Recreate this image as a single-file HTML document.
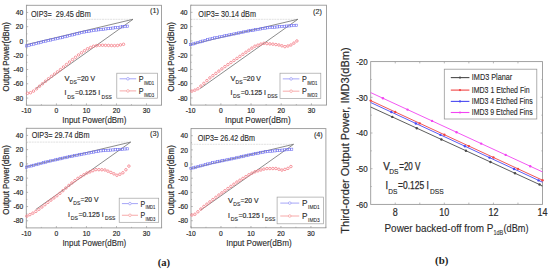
<!DOCTYPE html>
<html><head><meta charset="utf-8"><style>
html,body{margin:0;padding:0;background:#fff;width:550px;height:270px;overflow:hidden}
svg{display:block}
text{font-family:"Liberation Sans", sans-serif;stroke:#2a2a2a;stroke-width:0.2px}
</style></head><body>
<svg width="550" height="270" viewBox="0 0 550 270">
<rect width="550" height="270" fill="#fff"/>
<rect x="26.40" y="5.30" width="135.10" height="99.90" fill="none" stroke="#999999" stroke-width="0.9"/>
<line x1="26.40" y1="105.20" x2="26.40" y2="103.40" stroke="#999999" stroke-width="0.7"/>
<line x1="41.41" y1="105.20" x2="41.41" y2="104.20" stroke="#999999" stroke-width="0.7"/>
<line x1="56.42" y1="105.20" x2="56.42" y2="103.40" stroke="#999999" stroke-width="0.7"/>
<line x1="71.43" y1="105.20" x2="71.43" y2="104.20" stroke="#999999" stroke-width="0.7"/>
<line x1="86.44" y1="105.20" x2="86.44" y2="103.40" stroke="#999999" stroke-width="0.7"/>
<line x1="101.46" y1="105.20" x2="101.46" y2="104.20" stroke="#999999" stroke-width="0.7"/>
<line x1="116.47" y1="105.20" x2="116.47" y2="103.40" stroke="#999999" stroke-width="0.7"/>
<line x1="131.48" y1="105.20" x2="131.48" y2="104.20" stroke="#999999" stroke-width="0.7"/>
<line x1="146.49" y1="105.20" x2="146.49" y2="103.40" stroke="#999999" stroke-width="0.7"/>
<line x1="161.50" y1="105.20" x2="161.50" y2="104.20" stroke="#999999" stroke-width="0.7"/>
<line x1="26.40" y1="105.20" x2="27.40" y2="105.20" stroke="#999999" stroke-width="0.7"/>
<line x1="26.40" y1="98.06" x2="28.20" y2="98.06" stroke="#999999" stroke-width="0.7"/>
<line x1="26.40" y1="90.93" x2="27.40" y2="90.93" stroke="#999999" stroke-width="0.7"/>
<line x1="26.40" y1="83.79" x2="28.20" y2="83.79" stroke="#999999" stroke-width="0.7"/>
<line x1="26.40" y1="76.66" x2="27.40" y2="76.66" stroke="#999999" stroke-width="0.7"/>
<line x1="26.40" y1="69.52" x2="28.20" y2="69.52" stroke="#999999" stroke-width="0.7"/>
<line x1="26.40" y1="62.39" x2="27.40" y2="62.39" stroke="#999999" stroke-width="0.7"/>
<line x1="26.40" y1="55.25" x2="28.20" y2="55.25" stroke="#999999" stroke-width="0.7"/>
<line x1="26.40" y1="48.11" x2="27.40" y2="48.11" stroke="#999999" stroke-width="0.7"/>
<line x1="26.40" y1="40.98" x2="28.20" y2="40.98" stroke="#999999" stroke-width="0.7"/>
<line x1="26.40" y1="33.84" x2="27.40" y2="33.84" stroke="#999999" stroke-width="0.7"/>
<line x1="26.40" y1="26.71" x2="28.20" y2="26.71" stroke="#999999" stroke-width="0.7"/>
<line x1="26.40" y1="19.57" x2="27.40" y2="19.57" stroke="#999999" stroke-width="0.7"/>
<line x1="26.40" y1="12.44" x2="28.20" y2="12.44" stroke="#999999" stroke-width="0.7"/>
<line x1="26.40" y1="5.30" x2="27.40" y2="5.30" stroke="#999999" stroke-width="0.7"/>
<text x="23.30" y="100.75" font-size="7.8" text-anchor="end" textLength="9.69" lengthAdjust="spacingAndGlyphs" fill="#2a2a2a">-80</text>
<text x="23.30" y="86.48" font-size="7.8" text-anchor="end" textLength="9.69" lengthAdjust="spacingAndGlyphs" fill="#2a2a2a">-60</text>
<text x="23.30" y="72.20" font-size="7.8" text-anchor="end" textLength="9.69" lengthAdjust="spacingAndGlyphs" fill="#2a2a2a">-40</text>
<text x="23.30" y="57.93" font-size="7.8" text-anchor="end" textLength="9.69" lengthAdjust="spacingAndGlyphs" fill="#2a2a2a">-20</text>
<text x="23.30" y="43.66" font-size="7.8" text-anchor="end" textLength="3.73" lengthAdjust="spacingAndGlyphs" fill="#2a2a2a">0</text>
<text x="23.30" y="29.39" font-size="7.8" text-anchor="end" textLength="7.46" lengthAdjust="spacingAndGlyphs" fill="#2a2a2a">20</text>
<text x="23.30" y="15.12" font-size="7.8" text-anchor="end" textLength="7.46" lengthAdjust="spacingAndGlyphs" fill="#2a2a2a">40</text>
<text x="26.40" y="113.28" font-size="7.8" text-anchor="middle" textLength="9.69" lengthAdjust="spacingAndGlyphs" fill="#2a2a2a">-10</text>
<text x="56.42" y="113.28" font-size="7.8" text-anchor="middle" textLength="3.73" lengthAdjust="spacingAndGlyphs" fill="#2a2a2a">0</text>
<text x="86.44" y="113.28" font-size="7.8" text-anchor="middle" textLength="7.46" lengthAdjust="spacingAndGlyphs" fill="#2a2a2a">10</text>
<text x="116.47" y="113.28" font-size="7.8" text-anchor="middle" textLength="7.46" lengthAdjust="spacingAndGlyphs" fill="#2a2a2a">20</text>
<text x="146.49" y="113.28" font-size="7.8" text-anchor="middle" textLength="7.46" lengthAdjust="spacingAndGlyphs" fill="#2a2a2a">30</text>
<text x="62.30" y="122.86" font-size="8.60" text-anchor="start" textLength="64.10" lengthAdjust="spacingAndGlyphs" fill="#2a2a2a" style="stroke-width:0.12px">Input Power(dBm)</text>
<text transform="translate(9.46,91.50) rotate(-90)" x="0" y="0" font-size="8.6" textLength="69.50" lengthAdjust="spacingAndGlyphs" fill="#2a2a2a">Output Power(dBm)</text>
<text x="31.00" y="16.70" font-size="8.40" text-anchor="start" textLength="59.70" lengthAdjust="spacingAndGlyphs" fill="#2a2a2a" style="stroke-width:0.12px">OIP3=&#160; 29.45 dBm</text>
<text x="150.10" y="13.30" font-size="7.20" text-anchor="start" textLength="8.90" lengthAdjust="spacingAndGlyphs" fill="#2a2a2a" style="stroke-width:0.12px">(1)</text>
<line x1="26.40" y1="19.30" x2="133.00" y2="19.30" stroke="#cccccc" stroke-width="0.6" stroke-dasharray="2,0.7"/>
<line x1="26.40" y1="44.64" x2="133.00" y2="19.30" stroke="#6e6e6e" stroke-width="0.8"/>
<line x1="35.90" y1="88.54" x2="133.00" y2="19.30" stroke="#6e6e6e" stroke-width="0.8"/>
<rect x="25.50" y="44.80" width="2.2" height="2.2" fill="none" stroke="#7272f0" stroke-width="0.6"/>
<rect x="27.90" y="44.19" width="2.2" height="2.2" fill="none" stroke="#7272f0" stroke-width="0.6"/>
<rect x="30.30" y="43.58" width="2.2" height="2.2" fill="none" stroke="#7272f0" stroke-width="0.6"/>
<rect x="32.70" y="42.97" width="2.2" height="2.2" fill="none" stroke="#7272f0" stroke-width="0.6"/>
<rect x="35.10" y="42.36" width="2.2" height="2.2" fill="none" stroke="#7272f0" stroke-width="0.6"/>
<rect x="37.50" y="41.75" width="2.2" height="2.2" fill="none" stroke="#7272f0" stroke-width="0.6"/>
<rect x="39.90" y="41.14" width="2.2" height="2.2" fill="none" stroke="#7272f0" stroke-width="0.6"/>
<rect x="42.30" y="40.53" width="2.2" height="2.2" fill="none" stroke="#7272f0" stroke-width="0.6"/>
<rect x="44.70" y="39.98" width="2.2" height="2.2" fill="none" stroke="#7272f0" stroke-width="0.6"/>
<rect x="47.10" y="39.44" width="2.2" height="2.2" fill="none" stroke="#7272f0" stroke-width="0.6"/>
<rect x="49.50" y="38.90" width="2.2" height="2.2" fill="none" stroke="#7272f0" stroke-width="0.6"/>
<rect x="51.90" y="38.36" width="2.2" height="2.2" fill="none" stroke="#7272f0" stroke-width="0.6"/>
<rect x="54.30" y="37.82" width="2.2" height="2.2" fill="none" stroke="#7272f0" stroke-width="0.6"/>
<rect x="56.70" y="37.28" width="2.2" height="2.2" fill="none" stroke="#7272f0" stroke-width="0.6"/>
<rect x="59.10" y="36.73" width="2.2" height="2.2" fill="none" stroke="#7272f0" stroke-width="0.6"/>
<rect x="61.50" y="36.19" width="2.2" height="2.2" fill="none" stroke="#7272f0" stroke-width="0.6"/>
<rect x="63.90" y="35.62" width="2.2" height="2.2" fill="none" stroke="#7272f0" stroke-width="0.6"/>
<rect x="66.30" y="35.02" width="2.2" height="2.2" fill="none" stroke="#7272f0" stroke-width="0.6"/>
<rect x="68.70" y="34.42" width="2.2" height="2.2" fill="none" stroke="#7272f0" stroke-width="0.6"/>
<rect x="71.10" y="33.82" width="2.2" height="2.2" fill="none" stroke="#7272f0" stroke-width="0.6"/>
<rect x="73.50" y="33.22" width="2.2" height="2.2" fill="none" stroke="#7272f0" stroke-width="0.6"/>
<rect x="75.90" y="32.62" width="2.2" height="2.2" fill="none" stroke="#7272f0" stroke-width="0.6"/>
<rect x="78.30" y="32.02" width="2.2" height="2.2" fill="none" stroke="#7272f0" stroke-width="0.6"/>
<rect x="80.70" y="31.42" width="2.2" height="2.2" fill="none" stroke="#7272f0" stroke-width="0.6"/>
<rect x="83.10" y="30.92" width="2.2" height="2.2" fill="none" stroke="#7272f0" stroke-width="0.6"/>
<rect x="85.50" y="30.51" width="2.2" height="2.2" fill="none" stroke="#7272f0" stroke-width="0.6"/>
<rect x="87.90" y="30.11" width="2.2" height="2.2" fill="none" stroke="#7272f0" stroke-width="0.6"/>
<rect x="90.30" y="29.71" width="2.2" height="2.2" fill="none" stroke="#7272f0" stroke-width="0.6"/>
<rect x="92.70" y="29.30" width="2.2" height="2.2" fill="none" stroke="#7272f0" stroke-width="0.6"/>
<rect x="95.10" y="28.96" width="2.2" height="2.2" fill="none" stroke="#7272f0" stroke-width="0.6"/>
<rect x="97.50" y="28.67" width="2.2" height="2.2" fill="none" stroke="#7272f0" stroke-width="0.6"/>
<rect x="99.90" y="28.38" width="2.2" height="2.2" fill="none" stroke="#7272f0" stroke-width="0.6"/>
<rect x="102.30" y="28.09" width="2.2" height="2.2" fill="none" stroke="#7272f0" stroke-width="0.6"/>
<rect x="104.70" y="27.80" width="2.2" height="2.2" fill="none" stroke="#7272f0" stroke-width="0.6"/>
<rect x="107.10" y="27.52" width="2.2" height="2.2" fill="none" stroke="#7272f0" stroke-width="0.6"/>
<rect x="109.50" y="27.22" width="2.2" height="2.2" fill="none" stroke="#7272f0" stroke-width="0.6"/>
<rect x="111.90" y="26.92" width="2.2" height="2.2" fill="none" stroke="#7272f0" stroke-width="0.6"/>
<rect x="114.30" y="26.61" width="2.2" height="2.2" fill="none" stroke="#7272f0" stroke-width="0.6"/>
<rect x="116.70" y="26.30" width="2.2" height="2.2" fill="none" stroke="#7272f0" stroke-width="0.6"/>
<rect x="119.10" y="25.99" width="2.2" height="2.2" fill="none" stroke="#7272f0" stroke-width="0.6"/>
<rect x="121.50" y="25.68" width="2.2" height="2.2" fill="none" stroke="#7272f0" stroke-width="0.6"/>
<rect x="123.90" y="25.38" width="2.2" height="2.2" fill="none" stroke="#7272f0" stroke-width="0.6"/>
<rect x="126.30" y="25.07" width="2.2" height="2.2" fill="none" stroke="#7272f0" stroke-width="0.6"/>
<circle cx="27.50" cy="93.30" r="1.25" fill="none" stroke="#f47a84" stroke-width="0.8"/>
<circle cx="30.50" cy="92.72" r="1.25" fill="none" stroke="#f47a84" stroke-width="0.8"/>
<circle cx="33.50" cy="91.08" r="1.25" fill="none" stroke="#f47a84" stroke-width="0.8"/>
<circle cx="36.50" cy="88.77" r="1.25" fill="none" stroke="#f47a84" stroke-width="0.8"/>
<circle cx="39.50" cy="86.26" r="1.25" fill="none" stroke="#f47a84" stroke-width="0.8"/>
<circle cx="42.50" cy="83.76" r="1.25" fill="none" stroke="#f47a84" stroke-width="0.8"/>
<circle cx="45.50" cy="81.26" r="1.25" fill="none" stroke="#f47a84" stroke-width="0.8"/>
<circle cx="48.50" cy="78.75" r="1.25" fill="none" stroke="#f47a84" stroke-width="0.8"/>
<circle cx="51.50" cy="76.37" r="1.25" fill="none" stroke="#f47a84" stroke-width="0.8"/>
<circle cx="54.50" cy="74.10" r="1.25" fill="none" stroke="#f47a84" stroke-width="0.8"/>
<circle cx="57.50" cy="71.84" r="1.25" fill="none" stroke="#f47a84" stroke-width="0.8"/>
<circle cx="60.50" cy="69.58" r="1.25" fill="none" stroke="#f47a84" stroke-width="0.8"/>
<circle cx="63.50" cy="67.01" r="1.25" fill="none" stroke="#f47a84" stroke-width="0.8"/>
<circle cx="66.50" cy="64.51" r="1.25" fill="none" stroke="#f47a84" stroke-width="0.8"/>
<circle cx="69.50" cy="62.05" r="1.25" fill="none" stroke="#f47a84" stroke-width="0.8"/>
<circle cx="72.50" cy="59.61" r="1.25" fill="none" stroke="#f47a84" stroke-width="0.8"/>
<circle cx="75.50" cy="57.28" r="1.25" fill="none" stroke="#f47a84" stroke-width="0.8"/>
<circle cx="78.50" cy="54.95" r="1.25" fill="none" stroke="#f47a84" stroke-width="0.8"/>
<circle cx="81.50" cy="52.79" r="1.25" fill="none" stroke="#f47a84" stroke-width="0.8"/>
<circle cx="84.50" cy="50.72" r="1.25" fill="none" stroke="#f47a84" stroke-width="0.8"/>
<circle cx="87.50" cy="48.79" r="1.25" fill="none" stroke="#f47a84" stroke-width="0.8"/>
<circle cx="90.50" cy="47.53" r="1.25" fill="none" stroke="#f47a84" stroke-width="0.8"/>
<circle cx="93.50" cy="46.28" r="1.25" fill="none" stroke="#f47a84" stroke-width="0.8"/>
<circle cx="96.50" cy="45.64" r="1.25" fill="none" stroke="#f47a84" stroke-width="0.8"/>
<circle cx="99.50" cy="45.26" r="1.25" fill="none" stroke="#f47a84" stroke-width="0.8"/>
<circle cx="102.50" cy="45.26" r="1.25" fill="none" stroke="#f47a84" stroke-width="0.8"/>
<circle cx="105.50" cy="45.33" r="1.25" fill="none" stroke="#f47a84" stroke-width="0.8"/>
<circle cx="108.50" cy="45.43" r="1.25" fill="none" stroke="#f47a84" stroke-width="0.8"/>
<circle cx="111.50" cy="45.54" r="1.25" fill="none" stroke="#f47a84" stroke-width="0.8"/>
<circle cx="114.50" cy="45.64" r="1.25" fill="none" stroke="#f47a84" stroke-width="0.8"/>
<circle cx="117.50" cy="45.48" r="1.25" fill="none" stroke="#f47a84" stroke-width="0.8"/>
<circle cx="120.50" cy="44.89" r="1.25" fill="none" stroke="#f47a84" stroke-width="0.8"/>
<circle cx="123.50" cy="44.30" r="1.25" fill="none" stroke="#f47a84" stroke-width="0.8"/>
<text x="64.60" y="80.80" font-size="8.00" text-anchor="start" textLength="5.00" lengthAdjust="spacingAndGlyphs" fill="#2a2a2a" style="stroke-width:0.2px">V</text>
<text x="69.80" y="83.80" font-size="6.00" text-anchor="start" textLength="7.00" lengthAdjust="spacingAndGlyphs" fill="#2a2a2a" style="stroke-width:0.12px">DS</text>
<text x="77.10" y="80.80" font-size="8.00" text-anchor="start" textLength="18.00" lengthAdjust="spacingAndGlyphs" fill="#2a2a2a" style="stroke-width:0.2px">=20 V</text>
<text x="64.60" y="95.20" font-size="8.00" text-anchor="start" textLength="1.90" lengthAdjust="spacingAndGlyphs" fill="#2a2a2a" style="stroke-width:0.2px">I</text>
<text x="67.20" y="98.60" font-size="6.00" text-anchor="start" textLength="7.20" lengthAdjust="spacingAndGlyphs" fill="#2a2a2a" style="stroke-width:0.12px">DS</text>
<text x="74.90" y="95.20" font-size="8.00" text-anchor="start" textLength="25.30" lengthAdjust="spacingAndGlyphs" fill="#2a2a2a" style="stroke-width:0.2px">=0.125 I</text>
<text x="101.60" y="98.60" font-size="6.00" text-anchor="start" textLength="10.20" lengthAdjust="spacingAndGlyphs" fill="#2a2a2a" style="stroke-width:0.12px">DSS</text>
<rect x="116.80" y="73.20" width="40.80" height="25.00" fill="#fff" stroke="#a0a0a0" stroke-width="0.7"/>
<line x1="119.60" y1="78.80" x2="136.20" y2="78.80" stroke="#9c9cf6" stroke-width="0.9"/>
<circle cx="127.90" cy="78.80" r="1.3" fill="#fff" stroke="#9c9cf6" stroke-width="0.75"/>
<text x="138.70" y="81.90" font-size="8.80" text-anchor="start" textLength="4.80" lengthAdjust="spacingAndGlyphs" fill="#2a2a2a" style="stroke-width:0.12px">P</text>
<text x="144.00" y="84.80" font-size="4.80" text-anchor="start" textLength="10.20" lengthAdjust="spacingAndGlyphs" fill="#2a2a2a" style="stroke-width:0.08px">IMD1</text>
<line x1="119.60" y1="90.90" x2="136.20" y2="90.90" stroke="#f6a0a0" stroke-width="0.9"/>
<circle cx="127.90" cy="90.90" r="1.3" fill="#fff" stroke="#f6a0a0" stroke-width="0.75"/>
<text x="138.70" y="94.00" font-size="8.80" text-anchor="start" textLength="4.80" lengthAdjust="spacingAndGlyphs" fill="#2a2a2a" style="stroke-width:0.12px">P</text>
<text x="144.00" y="96.90" font-size="4.80" text-anchor="start" textLength="10.20" lengthAdjust="spacingAndGlyphs" fill="#2a2a2a" style="stroke-width:0.08px">IMD3</text>
<rect x="190.70" y="5.20" width="135.80" height="99.90" fill="none" stroke="#999999" stroke-width="0.9"/>
<line x1="190.70" y1="105.10" x2="190.70" y2="103.30" stroke="#999999" stroke-width="0.7"/>
<line x1="205.79" y1="105.10" x2="205.79" y2="104.10" stroke="#999999" stroke-width="0.7"/>
<line x1="220.88" y1="105.10" x2="220.88" y2="103.30" stroke="#999999" stroke-width="0.7"/>
<line x1="235.97" y1="105.10" x2="235.97" y2="104.10" stroke="#999999" stroke-width="0.7"/>
<line x1="251.06" y1="105.10" x2="251.06" y2="103.30" stroke="#999999" stroke-width="0.7"/>
<line x1="266.14" y1="105.10" x2="266.14" y2="104.10" stroke="#999999" stroke-width="0.7"/>
<line x1="281.23" y1="105.10" x2="281.23" y2="103.30" stroke="#999999" stroke-width="0.7"/>
<line x1="296.32" y1="105.10" x2="296.32" y2="104.10" stroke="#999999" stroke-width="0.7"/>
<line x1="311.41" y1="105.10" x2="311.41" y2="103.30" stroke="#999999" stroke-width="0.7"/>
<line x1="326.50" y1="105.10" x2="326.50" y2="104.10" stroke="#999999" stroke-width="0.7"/>
<line x1="190.70" y1="105.10" x2="191.70" y2="105.10" stroke="#999999" stroke-width="0.7"/>
<line x1="190.70" y1="97.96" x2="192.50" y2="97.96" stroke="#999999" stroke-width="0.7"/>
<line x1="190.70" y1="90.83" x2="191.70" y2="90.83" stroke="#999999" stroke-width="0.7"/>
<line x1="190.70" y1="83.69" x2="192.50" y2="83.69" stroke="#999999" stroke-width="0.7"/>
<line x1="190.70" y1="76.56" x2="191.70" y2="76.56" stroke="#999999" stroke-width="0.7"/>
<line x1="190.70" y1="69.42" x2="192.50" y2="69.42" stroke="#999999" stroke-width="0.7"/>
<line x1="190.70" y1="62.29" x2="191.70" y2="62.29" stroke="#999999" stroke-width="0.7"/>
<line x1="190.70" y1="55.15" x2="192.50" y2="55.15" stroke="#999999" stroke-width="0.7"/>
<line x1="190.70" y1="48.01" x2="191.70" y2="48.01" stroke="#999999" stroke-width="0.7"/>
<line x1="190.70" y1="40.88" x2="192.50" y2="40.88" stroke="#999999" stroke-width="0.7"/>
<line x1="190.70" y1="33.74" x2="191.70" y2="33.74" stroke="#999999" stroke-width="0.7"/>
<line x1="190.70" y1="26.61" x2="192.50" y2="26.61" stroke="#999999" stroke-width="0.7"/>
<line x1="190.70" y1="19.47" x2="191.70" y2="19.47" stroke="#999999" stroke-width="0.7"/>
<line x1="190.70" y1="12.34" x2="192.50" y2="12.34" stroke="#999999" stroke-width="0.7"/>
<line x1="190.70" y1="5.20" x2="191.70" y2="5.20" stroke="#999999" stroke-width="0.7"/>
<text x="187.60" y="100.65" font-size="7.8" text-anchor="end" textLength="9.69" lengthAdjust="spacingAndGlyphs" fill="#2a2a2a">-80</text>
<text x="187.60" y="86.38" font-size="7.8" text-anchor="end" textLength="9.69" lengthAdjust="spacingAndGlyphs" fill="#2a2a2a">-60</text>
<text x="187.60" y="72.10" font-size="7.8" text-anchor="end" textLength="9.69" lengthAdjust="spacingAndGlyphs" fill="#2a2a2a">-40</text>
<text x="187.60" y="57.83" font-size="7.8" text-anchor="end" textLength="9.69" lengthAdjust="spacingAndGlyphs" fill="#2a2a2a">-20</text>
<text x="187.60" y="43.56" font-size="7.8" text-anchor="end" textLength="3.73" lengthAdjust="spacingAndGlyphs" fill="#2a2a2a">0</text>
<text x="187.60" y="29.29" font-size="7.8" text-anchor="end" textLength="7.46" lengthAdjust="spacingAndGlyphs" fill="#2a2a2a">20</text>
<text x="187.60" y="15.02" font-size="7.8" text-anchor="end" textLength="7.46" lengthAdjust="spacingAndGlyphs" fill="#2a2a2a">40</text>
<text x="190.70" y="113.18" font-size="7.8" text-anchor="middle" textLength="9.69" lengthAdjust="spacingAndGlyphs" fill="#2a2a2a">-10</text>
<text x="220.88" y="113.18" font-size="7.8" text-anchor="middle" textLength="3.73" lengthAdjust="spacingAndGlyphs" fill="#2a2a2a">0</text>
<text x="251.06" y="113.18" font-size="7.8" text-anchor="middle" textLength="7.46" lengthAdjust="spacingAndGlyphs" fill="#2a2a2a">10</text>
<text x="281.23" y="113.18" font-size="7.8" text-anchor="middle" textLength="7.46" lengthAdjust="spacingAndGlyphs" fill="#2a2a2a">20</text>
<text x="311.41" y="113.18" font-size="7.8" text-anchor="middle" textLength="7.46" lengthAdjust="spacingAndGlyphs" fill="#2a2a2a">30</text>
<text x="225.00" y="122.86" font-size="8.60" text-anchor="start" textLength="65.60" lengthAdjust="spacingAndGlyphs" fill="#2a2a2a" style="stroke-width:0.12px">Input Power(dBm)</text>
<text transform="translate(173.66,91.50) rotate(-90)" x="0" y="0" font-size="8.6" textLength="69.50" lengthAdjust="spacingAndGlyphs" fill="#2a2a2a">Output Power(dBm)</text>
<text x="198.30" y="16.70" font-size="8.40" text-anchor="start" textLength="57.60" lengthAdjust="spacingAndGlyphs" fill="#2a2a2a" style="stroke-width:0.12px">OIP3= 30.14 dBm</text>
<text x="313.00" y="13.60" font-size="7.20" text-anchor="start" textLength="8.90" lengthAdjust="spacingAndGlyphs" fill="#2a2a2a" style="stroke-width:0.12px">(2)</text>
<line x1="190.70" y1="19.30" x2="297.80" y2="19.30" stroke="#cccccc" stroke-width="0.6" stroke-dasharray="2,0.7"/>
<line x1="190.70" y1="44.62" x2="297.80" y2="19.30" stroke="#6e6e6e" stroke-width="0.8"/>
<line x1="200.20" y1="88.53" x2="297.80" y2="19.30" stroke="#6e6e6e" stroke-width="0.8"/>
<rect x="189.60" y="43.50" width="2.2" height="2.2" fill="none" stroke="#7272f0" stroke-width="0.6"/>
<rect x="192.00" y="42.81" width="2.2" height="2.2" fill="none" stroke="#7272f0" stroke-width="0.6"/>
<rect x="194.40" y="42.12" width="2.2" height="2.2" fill="none" stroke="#7272f0" stroke-width="0.6"/>
<rect x="196.80" y="41.42" width="2.2" height="2.2" fill="none" stroke="#7272f0" stroke-width="0.6"/>
<rect x="199.20" y="40.73" width="2.2" height="2.2" fill="none" stroke="#7272f0" stroke-width="0.6"/>
<rect x="201.60" y="40.04" width="2.2" height="2.2" fill="none" stroke="#7272f0" stroke-width="0.6"/>
<rect x="204.00" y="39.35" width="2.2" height="2.2" fill="none" stroke="#7272f0" stroke-width="0.6"/>
<rect x="206.40" y="38.66" width="2.2" height="2.2" fill="none" stroke="#7272f0" stroke-width="0.6"/>
<rect x="208.80" y="37.96" width="2.2" height="2.2" fill="none" stroke="#7272f0" stroke-width="0.6"/>
<rect x="211.20" y="37.28" width="2.2" height="2.2" fill="none" stroke="#7272f0" stroke-width="0.6"/>
<rect x="213.60" y="36.79" width="2.2" height="2.2" fill="none" stroke="#7272f0" stroke-width="0.6"/>
<rect x="216.00" y="36.31" width="2.2" height="2.2" fill="none" stroke="#7272f0" stroke-width="0.6"/>
<rect x="218.40" y="35.82" width="2.2" height="2.2" fill="none" stroke="#7272f0" stroke-width="0.6"/>
<rect x="220.80" y="35.33" width="2.2" height="2.2" fill="none" stroke="#7272f0" stroke-width="0.6"/>
<rect x="223.20" y="34.85" width="2.2" height="2.2" fill="none" stroke="#7272f0" stroke-width="0.6"/>
<rect x="225.60" y="34.36" width="2.2" height="2.2" fill="none" stroke="#7272f0" stroke-width="0.6"/>
<rect x="228.00" y="33.87" width="2.2" height="2.2" fill="none" stroke="#7272f0" stroke-width="0.6"/>
<rect x="230.40" y="33.39" width="2.2" height="2.2" fill="none" stroke="#7272f0" stroke-width="0.6"/>
<rect x="232.80" y="32.90" width="2.2" height="2.2" fill="none" stroke="#7272f0" stroke-width="0.6"/>
<rect x="235.20" y="32.40" width="2.2" height="2.2" fill="none" stroke="#7272f0" stroke-width="0.6"/>
<rect x="237.60" y="31.90" width="2.2" height="2.2" fill="none" stroke="#7272f0" stroke-width="0.6"/>
<rect x="240.00" y="31.40" width="2.2" height="2.2" fill="none" stroke="#7272f0" stroke-width="0.6"/>
<rect x="242.40" y="30.90" width="2.2" height="2.2" fill="none" stroke="#7272f0" stroke-width="0.6"/>
<rect x="244.80" y="30.40" width="2.2" height="2.2" fill="none" stroke="#7272f0" stroke-width="0.6"/>
<rect x="247.20" y="29.91" width="2.2" height="2.2" fill="none" stroke="#7272f0" stroke-width="0.6"/>
<rect x="249.60" y="29.50" width="2.2" height="2.2" fill="none" stroke="#7272f0" stroke-width="0.6"/>
<rect x="252.00" y="29.09" width="2.2" height="2.2" fill="none" stroke="#7272f0" stroke-width="0.6"/>
<rect x="254.40" y="28.68" width="2.2" height="2.2" fill="none" stroke="#7272f0" stroke-width="0.6"/>
<rect x="256.80" y="28.26" width="2.2" height="2.2" fill="none" stroke="#7272f0" stroke-width="0.6"/>
<rect x="259.20" y="27.85" width="2.2" height="2.2" fill="none" stroke="#7272f0" stroke-width="0.6"/>
<rect x="261.60" y="27.44" width="2.2" height="2.2" fill="none" stroke="#7272f0" stroke-width="0.6"/>
<rect x="264.00" y="27.03" width="2.2" height="2.2" fill="none" stroke="#7272f0" stroke-width="0.6"/>
<rect x="266.40" y="26.66" width="2.2" height="2.2" fill="none" stroke="#7272f0" stroke-width="0.6"/>
<rect x="268.80" y="26.45" width="2.2" height="2.2" fill="none" stroke="#7272f0" stroke-width="0.6"/>
<rect x="271.20" y="26.24" width="2.2" height="2.2" fill="none" stroke="#7272f0" stroke-width="0.6"/>
<rect x="273.60" y="26.04" width="2.2" height="2.2" fill="none" stroke="#7272f0" stroke-width="0.6"/>
<rect x="276.00" y="25.83" width="2.2" height="2.2" fill="none" stroke="#7272f0" stroke-width="0.6"/>
<rect x="278.40" y="25.62" width="2.2" height="2.2" fill="none" stroke="#7272f0" stroke-width="0.6"/>
<rect x="280.80" y="25.42" width="2.2" height="2.2" fill="none" stroke="#7272f0" stroke-width="0.6"/>
<rect x="283.20" y="25.21" width="2.2" height="2.2" fill="none" stroke="#7272f0" stroke-width="0.6"/>
<rect x="285.60" y="25.00" width="2.2" height="2.2" fill="none" stroke="#7272f0" stroke-width="0.6"/>
<rect x="288.00" y="24.80" width="2.2" height="2.2" fill="none" stroke="#7272f0" stroke-width="0.6"/>
<rect x="290.40" y="24.59" width="2.2" height="2.2" fill="none" stroke="#7272f0" stroke-width="0.6"/>
<rect x="292.80" y="24.38" width="2.2" height="2.2" fill="none" stroke="#7272f0" stroke-width="0.6"/>
<rect x="295.20" y="24.18" width="2.2" height="2.2" fill="none" stroke="#7272f0" stroke-width="0.6"/>
<circle cx="191.90" cy="91.10" r="1.25" fill="none" stroke="#f47a84" stroke-width="0.8"/>
<circle cx="194.90" cy="90.14" r="1.25" fill="none" stroke="#f47a84" stroke-width="0.8"/>
<circle cx="197.90" cy="88.77" r="1.25" fill="none" stroke="#f47a84" stroke-width="0.8"/>
<circle cx="200.90" cy="86.05" r="1.25" fill="none" stroke="#f47a84" stroke-width="0.8"/>
<circle cx="203.90" cy="83.33" r="1.25" fill="none" stroke="#f47a84" stroke-width="0.8"/>
<circle cx="206.90" cy="80.61" r="1.25" fill="none" stroke="#f47a84" stroke-width="0.8"/>
<circle cx="209.90" cy="77.89" r="1.25" fill="none" stroke="#f47a84" stroke-width="0.8"/>
<circle cx="212.90" cy="75.62" r="1.25" fill="none" stroke="#f47a84" stroke-width="0.8"/>
<circle cx="215.90" cy="73.38" r="1.25" fill="none" stroke="#f47a84" stroke-width="0.8"/>
<circle cx="218.90" cy="71.12" r="1.25" fill="none" stroke="#f47a84" stroke-width="0.8"/>
<circle cx="221.90" cy="68.88" r="1.25" fill="none" stroke="#f47a84" stroke-width="0.8"/>
<circle cx="224.90" cy="66.63" r="1.25" fill="none" stroke="#f47a84" stroke-width="0.8"/>
<circle cx="227.90" cy="64.58" r="1.25" fill="none" stroke="#f47a84" stroke-width="0.8"/>
<circle cx="230.90" cy="62.54" r="1.25" fill="none" stroke="#f47a84" stroke-width="0.8"/>
<circle cx="233.90" cy="60.49" r="1.25" fill="none" stroke="#f47a84" stroke-width="0.8"/>
<circle cx="236.90" cy="58.44" r="1.25" fill="none" stroke="#f47a84" stroke-width="0.8"/>
<circle cx="239.90" cy="56.39" r="1.25" fill="none" stroke="#f47a84" stroke-width="0.8"/>
<circle cx="242.90" cy="54.33" r="1.25" fill="none" stroke="#f47a84" stroke-width="0.8"/>
<circle cx="245.90" cy="52.26" r="1.25" fill="none" stroke="#f47a84" stroke-width="0.8"/>
<circle cx="248.90" cy="50.19" r="1.25" fill="none" stroke="#f47a84" stroke-width="0.8"/>
<circle cx="251.90" cy="48.12" r="1.25" fill="none" stroke="#f47a84" stroke-width="0.8"/>
<circle cx="254.90" cy="46.23" r="1.25" fill="none" stroke="#f47a84" stroke-width="0.8"/>
<circle cx="257.90" cy="45.18" r="1.25" fill="none" stroke="#f47a84" stroke-width="0.8"/>
<circle cx="260.90" cy="44.14" r="1.25" fill="none" stroke="#f47a84" stroke-width="0.8"/>
<circle cx="263.90" cy="43.35" r="1.25" fill="none" stroke="#f47a84" stroke-width="0.8"/>
<circle cx="266.90" cy="43.62" r="1.25" fill="none" stroke="#f47a84" stroke-width="0.8"/>
<circle cx="269.90" cy="43.89" r="1.25" fill="none" stroke="#f47a84" stroke-width="0.8"/>
<circle cx="272.90" cy="44.16" r="1.25" fill="none" stroke="#f47a84" stroke-width="0.8"/>
<circle cx="275.90" cy="44.56" r="1.25" fill="none" stroke="#f47a84" stroke-width="0.8"/>
<circle cx="278.90" cy="44.99" r="1.25" fill="none" stroke="#f47a84" stroke-width="0.8"/>
<circle cx="281.90" cy="45.80" r="1.25" fill="none" stroke="#f47a84" stroke-width="0.8"/>
<circle cx="284.90" cy="46.63" r="1.25" fill="none" stroke="#f47a84" stroke-width="0.8"/>
<circle cx="287.90" cy="45.99" r="1.25" fill="none" stroke="#f47a84" stroke-width="0.8"/>
<circle cx="290.90" cy="44.97" r="1.25" fill="none" stroke="#f47a84" stroke-width="0.8"/>
<circle cx="293.90" cy="43.12" r="1.25" fill="none" stroke="#f47a84" stroke-width="0.8"/>
<circle cx="296.90" cy="40.96" r="1.25" fill="none" stroke="#f47a84" stroke-width="0.8"/>
<text x="230.40" y="80.60" font-size="8.00" text-anchor="start" textLength="5.00" lengthAdjust="spacingAndGlyphs" fill="#2a2a2a" style="stroke-width:0.2px">V</text>
<text x="235.60" y="83.60" font-size="6.00" text-anchor="start" textLength="7.00" lengthAdjust="spacingAndGlyphs" fill="#2a2a2a" style="stroke-width:0.12px">DS</text>
<text x="242.90" y="80.60" font-size="8.00" text-anchor="start" textLength="18.00" lengthAdjust="spacingAndGlyphs" fill="#2a2a2a" style="stroke-width:0.2px">=20 V</text>
<text x="230.40" y="95.00" font-size="8.00" text-anchor="start" textLength="1.90" lengthAdjust="spacingAndGlyphs" fill="#2a2a2a" style="stroke-width:0.2px">I</text>
<text x="233.00" y="98.40" font-size="6.00" text-anchor="start" textLength="7.20" lengthAdjust="spacingAndGlyphs" fill="#2a2a2a" style="stroke-width:0.12px">DS</text>
<text x="240.70" y="95.00" font-size="8.00" text-anchor="start" textLength="25.30" lengthAdjust="spacingAndGlyphs" fill="#2a2a2a" style="stroke-width:0.2px">=0.125 I</text>
<text x="267.40" y="98.40" font-size="6.00" text-anchor="start" textLength="10.20" lengthAdjust="spacingAndGlyphs" fill="#2a2a2a" style="stroke-width:0.12px">DSS</text>
<rect x="280.00" y="73.20" width="40.80" height="25.40" fill="#fff" stroke="#a0a0a0" stroke-width="0.7"/>
<line x1="282.80" y1="78.89" x2="299.40" y2="78.89" stroke="#9c9cf6" stroke-width="0.9"/>
<circle cx="291.10" cy="78.89" r="1.3" fill="#fff" stroke="#9c9cf6" stroke-width="0.75"/>
<text x="301.90" y="82.04" font-size="8.94" text-anchor="start" textLength="4.80" lengthAdjust="spacingAndGlyphs" fill="#2a2a2a" style="stroke-width:0.12px">P</text>
<text x="307.20" y="84.99" font-size="4.88" text-anchor="start" textLength="10.20" lengthAdjust="spacingAndGlyphs" fill="#2a2a2a" style="stroke-width:0.08px">IMD1</text>
<line x1="282.80" y1="91.18" x2="299.40" y2="91.18" stroke="#f6a0a0" stroke-width="0.9"/>
<circle cx="291.10" cy="91.18" r="1.3" fill="#fff" stroke="#f6a0a0" stroke-width="0.75"/>
<text x="301.90" y="94.33" font-size="8.94" text-anchor="start" textLength="4.80" lengthAdjust="spacingAndGlyphs" fill="#2a2a2a" style="stroke-width:0.12px">P</text>
<text x="307.20" y="97.28" font-size="4.88" text-anchor="start" textLength="10.20" lengthAdjust="spacingAndGlyphs" fill="#2a2a2a" style="stroke-width:0.08px">IMD3</text>
<rect x="26.30" y="128.30" width="135.30" height="99.60" fill="none" stroke="#999999" stroke-width="0.9"/>
<line x1="26.30" y1="227.90" x2="26.30" y2="226.10" stroke="#999999" stroke-width="0.7"/>
<line x1="41.33" y1="227.90" x2="41.33" y2="226.90" stroke="#999999" stroke-width="0.7"/>
<line x1="56.37" y1="227.90" x2="56.37" y2="226.10" stroke="#999999" stroke-width="0.7"/>
<line x1="71.40" y1="227.90" x2="71.40" y2="226.90" stroke="#999999" stroke-width="0.7"/>
<line x1="86.43" y1="227.90" x2="86.43" y2="226.10" stroke="#999999" stroke-width="0.7"/>
<line x1="101.47" y1="227.90" x2="101.47" y2="226.90" stroke="#999999" stroke-width="0.7"/>
<line x1="116.50" y1="227.90" x2="116.50" y2="226.10" stroke="#999999" stroke-width="0.7"/>
<line x1="131.53" y1="227.90" x2="131.53" y2="226.90" stroke="#999999" stroke-width="0.7"/>
<line x1="146.57" y1="227.90" x2="146.57" y2="226.10" stroke="#999999" stroke-width="0.7"/>
<line x1="161.60" y1="227.90" x2="161.60" y2="226.90" stroke="#999999" stroke-width="0.7"/>
<line x1="26.30" y1="227.90" x2="27.30" y2="227.90" stroke="#999999" stroke-width="0.7"/>
<line x1="26.30" y1="220.79" x2="28.10" y2="220.79" stroke="#999999" stroke-width="0.7"/>
<line x1="26.30" y1="213.67" x2="27.30" y2="213.67" stroke="#999999" stroke-width="0.7"/>
<line x1="26.30" y1="206.56" x2="28.10" y2="206.56" stroke="#999999" stroke-width="0.7"/>
<line x1="26.30" y1="199.44" x2="27.30" y2="199.44" stroke="#999999" stroke-width="0.7"/>
<line x1="26.30" y1="192.33" x2="28.10" y2="192.33" stroke="#999999" stroke-width="0.7"/>
<line x1="26.30" y1="185.21" x2="27.30" y2="185.21" stroke="#999999" stroke-width="0.7"/>
<line x1="26.30" y1="178.10" x2="28.10" y2="178.10" stroke="#999999" stroke-width="0.7"/>
<line x1="26.30" y1="170.99" x2="27.30" y2="170.99" stroke="#999999" stroke-width="0.7"/>
<line x1="26.30" y1="163.87" x2="28.10" y2="163.87" stroke="#999999" stroke-width="0.7"/>
<line x1="26.30" y1="156.76" x2="27.30" y2="156.76" stroke="#999999" stroke-width="0.7"/>
<line x1="26.30" y1="149.64" x2="28.10" y2="149.64" stroke="#999999" stroke-width="0.7"/>
<line x1="26.30" y1="142.53" x2="27.30" y2="142.53" stroke="#999999" stroke-width="0.7"/>
<line x1="26.30" y1="135.41" x2="28.10" y2="135.41" stroke="#999999" stroke-width="0.7"/>
<line x1="26.30" y1="128.30" x2="27.30" y2="128.30" stroke="#999999" stroke-width="0.7"/>
<text x="23.20" y="223.47" font-size="7.8" text-anchor="end" textLength="9.69" lengthAdjust="spacingAndGlyphs" fill="#2a2a2a">-80</text>
<text x="23.20" y="209.24" font-size="7.8" text-anchor="end" textLength="9.69" lengthAdjust="spacingAndGlyphs" fill="#2a2a2a">-60</text>
<text x="23.20" y="195.01" font-size="7.8" text-anchor="end" textLength="9.69" lengthAdjust="spacingAndGlyphs" fill="#2a2a2a">-40</text>
<text x="23.20" y="180.78" font-size="7.8" text-anchor="end" textLength="9.69" lengthAdjust="spacingAndGlyphs" fill="#2a2a2a">-20</text>
<text x="23.20" y="166.55" font-size="7.8" text-anchor="end" textLength="3.73" lengthAdjust="spacingAndGlyphs" fill="#2a2a2a">0</text>
<text x="23.20" y="152.33" font-size="7.8" text-anchor="end" textLength="7.46" lengthAdjust="spacingAndGlyphs" fill="#2a2a2a">20</text>
<text x="23.20" y="138.10" font-size="7.8" text-anchor="end" textLength="7.46" lengthAdjust="spacingAndGlyphs" fill="#2a2a2a">40</text>
<text x="26.30" y="235.98" font-size="7.8" text-anchor="middle" textLength="9.69" lengthAdjust="spacingAndGlyphs" fill="#2a2a2a">-10</text>
<text x="56.37" y="235.98" font-size="7.8" text-anchor="middle" textLength="3.73" lengthAdjust="spacingAndGlyphs" fill="#2a2a2a">0</text>
<text x="86.43" y="235.98" font-size="7.8" text-anchor="middle" textLength="7.46" lengthAdjust="spacingAndGlyphs" fill="#2a2a2a">10</text>
<text x="116.50" y="235.98" font-size="7.8" text-anchor="middle" textLength="7.46" lengthAdjust="spacingAndGlyphs" fill="#2a2a2a">20</text>
<text x="146.57" y="235.98" font-size="7.8" text-anchor="middle" textLength="7.46" lengthAdjust="spacingAndGlyphs" fill="#2a2a2a">30</text>
<text x="62.40" y="245.76" font-size="8.60" text-anchor="start" textLength="63.80" lengthAdjust="spacingAndGlyphs" fill="#2a2a2a" style="stroke-width:0.12px">Input Power(dBm)</text>
<text transform="translate(9.46,214.70) rotate(-90)" x="0" y="0" font-size="8.6" textLength="69.50" lengthAdjust="spacingAndGlyphs" fill="#2a2a2a">Output Power(dBm)</text>
<text x="31.70" y="138.10" font-size="8.40" text-anchor="start" textLength="57.80" lengthAdjust="spacingAndGlyphs" fill="#2a2a2a" style="stroke-width:0.12px">OIP3= 29.74 dBm</text>
<text x="150.10" y="136.00" font-size="7.20" text-anchor="start" textLength="8.90" lengthAdjust="spacingAndGlyphs" fill="#2a2a2a" style="stroke-width:0.12px">(3)</text>
<line x1="26.30" y1="142.10" x2="130.70" y2="142.10" stroke="#cccccc" stroke-width="0.6" stroke-dasharray="2,0.7"/>
<line x1="26.30" y1="166.80" x2="130.70" y2="142.10" stroke="#6e6e6e" stroke-width="0.8"/>
<line x1="35.80" y1="209.46" x2="130.70" y2="142.10" stroke="#6e6e6e" stroke-width="0.8"/>
<rect x="25.40" y="166.10" width="2.2" height="2.2" fill="none" stroke="#7272f0" stroke-width="0.6"/>
<rect x="27.80" y="165.46" width="2.2" height="2.2" fill="none" stroke="#7272f0" stroke-width="0.6"/>
<rect x="30.20" y="164.82" width="2.2" height="2.2" fill="none" stroke="#7272f0" stroke-width="0.6"/>
<rect x="32.60" y="164.19" width="2.2" height="2.2" fill="none" stroke="#7272f0" stroke-width="0.6"/>
<rect x="35.00" y="163.55" width="2.2" height="2.2" fill="none" stroke="#7272f0" stroke-width="0.6"/>
<rect x="37.40" y="162.91" width="2.2" height="2.2" fill="none" stroke="#7272f0" stroke-width="0.6"/>
<rect x="39.80" y="162.27" width="2.2" height="2.2" fill="none" stroke="#7272f0" stroke-width="0.6"/>
<rect x="42.20" y="161.64" width="2.2" height="2.2" fill="none" stroke="#7272f0" stroke-width="0.6"/>
<rect x="44.60" y="161.00" width="2.2" height="2.2" fill="none" stroke="#7272f0" stroke-width="0.6"/>
<rect x="47.00" y="160.40" width="2.2" height="2.2" fill="none" stroke="#7272f0" stroke-width="0.6"/>
<rect x="49.40" y="159.86" width="2.2" height="2.2" fill="none" stroke="#7272f0" stroke-width="0.6"/>
<rect x="51.80" y="159.32" width="2.2" height="2.2" fill="none" stroke="#7272f0" stroke-width="0.6"/>
<rect x="54.20" y="158.78" width="2.2" height="2.2" fill="none" stroke="#7272f0" stroke-width="0.6"/>
<rect x="56.60" y="158.24" width="2.2" height="2.2" fill="none" stroke="#7272f0" stroke-width="0.6"/>
<rect x="59.00" y="157.69" width="2.2" height="2.2" fill="none" stroke="#7272f0" stroke-width="0.6"/>
<rect x="61.40" y="157.15" width="2.2" height="2.2" fill="none" stroke="#7272f0" stroke-width="0.6"/>
<rect x="63.80" y="156.61" width="2.2" height="2.2" fill="none" stroke="#7272f0" stroke-width="0.6"/>
<rect x="66.20" y="156.07" width="2.2" height="2.2" fill="none" stroke="#7272f0" stroke-width="0.6"/>
<rect x="68.60" y="155.54" width="2.2" height="2.2" fill="none" stroke="#7272f0" stroke-width="0.6"/>
<rect x="71.00" y="155.08" width="2.2" height="2.2" fill="none" stroke="#7272f0" stroke-width="0.6"/>
<rect x="73.40" y="154.62" width="2.2" height="2.2" fill="none" stroke="#7272f0" stroke-width="0.6"/>
<rect x="75.80" y="154.15" width="2.2" height="2.2" fill="none" stroke="#7272f0" stroke-width="0.6"/>
<rect x="78.20" y="153.69" width="2.2" height="2.2" fill="none" stroke="#7272f0" stroke-width="0.6"/>
<rect x="80.60" y="153.22" width="2.2" height="2.2" fill="none" stroke="#7272f0" stroke-width="0.6"/>
<rect x="83.00" y="152.76" width="2.2" height="2.2" fill="none" stroke="#7272f0" stroke-width="0.6"/>
<rect x="85.40" y="152.32" width="2.2" height="2.2" fill="none" stroke="#7272f0" stroke-width="0.6"/>
<rect x="87.80" y="151.87" width="2.2" height="2.2" fill="none" stroke="#7272f0" stroke-width="0.6"/>
<rect x="90.20" y="151.42" width="2.2" height="2.2" fill="none" stroke="#7272f0" stroke-width="0.6"/>
<rect x="92.60" y="150.97" width="2.2" height="2.2" fill="none" stroke="#7272f0" stroke-width="0.6"/>
<rect x="95.00" y="150.53" width="2.2" height="2.2" fill="none" stroke="#7272f0" stroke-width="0.6"/>
<rect x="97.40" y="150.08" width="2.2" height="2.2" fill="none" stroke="#7272f0" stroke-width="0.6"/>
<rect x="99.80" y="149.73" width="2.2" height="2.2" fill="none" stroke="#7272f0" stroke-width="0.6"/>
<rect x="102.20" y="149.55" width="2.2" height="2.2" fill="none" stroke="#7272f0" stroke-width="0.6"/>
<rect x="104.60" y="149.37" width="2.2" height="2.2" fill="none" stroke="#7272f0" stroke-width="0.6"/>
<rect x="107.00" y="149.19" width="2.2" height="2.2" fill="none" stroke="#7272f0" stroke-width="0.6"/>
<rect x="109.40" y="149.00" width="2.2" height="2.2" fill="none" stroke="#7272f0" stroke-width="0.6"/>
<rect x="111.80" y="148.82" width="2.2" height="2.2" fill="none" stroke="#7272f0" stroke-width="0.6"/>
<rect x="114.20" y="148.64" width="2.2" height="2.2" fill="none" stroke="#7272f0" stroke-width="0.6"/>
<rect x="116.60" y="148.46" width="2.2" height="2.2" fill="none" stroke="#7272f0" stroke-width="0.6"/>
<rect x="119.00" y="148.28" width="2.2" height="2.2" fill="none" stroke="#7272f0" stroke-width="0.6"/>
<rect x="121.40" y="148.09" width="2.2" height="2.2" fill="none" stroke="#7272f0" stroke-width="0.6"/>
<rect x="123.80" y="147.91" width="2.2" height="2.2" fill="none" stroke="#7272f0" stroke-width="0.6"/>
<rect x="126.20" y="147.73" width="2.2" height="2.2" fill="none" stroke="#7272f0" stroke-width="0.6"/>
<circle cx="26.90" cy="216.10" r="1.25" fill="none" stroke="#f47a84" stroke-width="0.8"/>
<circle cx="29.90" cy="214.62" r="1.25" fill="none" stroke="#f47a84" stroke-width="0.8"/>
<circle cx="32.90" cy="213.14" r="1.25" fill="none" stroke="#f47a84" stroke-width="0.8"/>
<circle cx="35.90" cy="211.39" r="1.25" fill="none" stroke="#f47a84" stroke-width="0.8"/>
<circle cx="38.90" cy="209.27" r="1.25" fill="none" stroke="#f47a84" stroke-width="0.8"/>
<circle cx="41.90" cy="207.02" r="1.25" fill="none" stroke="#f47a84" stroke-width="0.8"/>
<circle cx="44.90" cy="204.69" r="1.25" fill="none" stroke="#f47a84" stroke-width="0.8"/>
<circle cx="47.90" cy="202.36" r="1.25" fill="none" stroke="#f47a84" stroke-width="0.8"/>
<circle cx="50.90" cy="200.12" r="1.25" fill="none" stroke="#f47a84" stroke-width="0.8"/>
<circle cx="53.90" cy="197.94" r="1.25" fill="none" stroke="#f47a84" stroke-width="0.8"/>
<circle cx="56.90" cy="195.76" r="1.25" fill="none" stroke="#f47a84" stroke-width="0.8"/>
<circle cx="59.90" cy="193.35" r="1.25" fill="none" stroke="#f47a84" stroke-width="0.8"/>
<circle cx="62.90" cy="190.67" r="1.25" fill="none" stroke="#f47a84" stroke-width="0.8"/>
<circle cx="65.90" cy="188.00" r="1.25" fill="none" stroke="#f47a84" stroke-width="0.8"/>
<circle cx="68.90" cy="185.42" r="1.25" fill="none" stroke="#f47a84" stroke-width="0.8"/>
<circle cx="71.90" cy="183.00" r="1.25" fill="none" stroke="#f47a84" stroke-width="0.8"/>
<circle cx="74.90" cy="180.59" r="1.25" fill="none" stroke="#f47a84" stroke-width="0.8"/>
<circle cx="77.90" cy="178.36" r="1.25" fill="none" stroke="#f47a84" stroke-width="0.8"/>
<circle cx="80.90" cy="176.55" r="1.25" fill="none" stroke="#f47a84" stroke-width="0.8"/>
<circle cx="83.90" cy="174.75" r="1.25" fill="none" stroke="#f47a84" stroke-width="0.8"/>
<circle cx="86.90" cy="173.06" r="1.25" fill="none" stroke="#f47a84" stroke-width="0.8"/>
<circle cx="89.90" cy="171.87" r="1.25" fill="none" stroke="#f47a84" stroke-width="0.8"/>
<circle cx="92.90" cy="170.67" r="1.25" fill="none" stroke="#f47a84" stroke-width="0.8"/>
<circle cx="95.90" cy="169.61" r="1.25" fill="none" stroke="#f47a84" stroke-width="0.8"/>
<circle cx="98.90" cy="169.67" r="1.25" fill="none" stroke="#f47a84" stroke-width="0.8"/>
<circle cx="101.90" cy="169.74" r="1.25" fill="none" stroke="#f47a84" stroke-width="0.8"/>
<circle cx="104.90" cy="169.96" r="1.25" fill="none" stroke="#f47a84" stroke-width="0.8"/>
<circle cx="107.90" cy="171.16" r="1.25" fill="none" stroke="#f47a84" stroke-width="0.8"/>
<circle cx="110.90" cy="172.43" r="1.25" fill="none" stroke="#f47a84" stroke-width="0.8"/>
<circle cx="113.90" cy="173.84" r="1.25" fill="none" stroke="#f47a84" stroke-width="0.8"/>
<circle cx="116.90" cy="175.26" r="1.25" fill="none" stroke="#f47a84" stroke-width="0.8"/>
<circle cx="119.90" cy="174.25" r="1.25" fill="none" stroke="#f47a84" stroke-width="0.8"/>
<circle cx="122.90" cy="172.75" r="1.25" fill="none" stroke="#f47a84" stroke-width="0.8"/>
<circle cx="125.90" cy="169.76" r="1.25" fill="none" stroke="#f47a84" stroke-width="0.8"/>
<circle cx="128.90" cy="166.12" r="1.25" fill="none" stroke="#f47a84" stroke-width="0.8"/>
<text x="68.10" y="202.40" font-size="8.00" text-anchor="start" textLength="5.00" lengthAdjust="spacingAndGlyphs" fill="#2a2a2a" style="stroke-width:0.2px">V</text>
<text x="73.30" y="205.40" font-size="6.00" text-anchor="start" textLength="7.00" lengthAdjust="spacingAndGlyphs" fill="#2a2a2a" style="stroke-width:0.12px">DS</text>
<text x="80.60" y="202.40" font-size="8.00" text-anchor="start" textLength="18.00" lengthAdjust="spacingAndGlyphs" fill="#2a2a2a" style="stroke-width:0.2px">=20 V</text>
<text x="68.10" y="216.80" font-size="8.00" text-anchor="start" textLength="1.90" lengthAdjust="spacingAndGlyphs" fill="#2a2a2a" style="stroke-width:0.2px">I</text>
<text x="70.70" y="220.20" font-size="6.00" text-anchor="start" textLength="7.20" lengthAdjust="spacingAndGlyphs" fill="#2a2a2a" style="stroke-width:0.12px">DS</text>
<text x="78.40" y="216.80" font-size="8.00" text-anchor="start" textLength="25.30" lengthAdjust="spacingAndGlyphs" fill="#2a2a2a" style="stroke-width:0.2px">=0.125 I</text>
<text x="105.10" y="220.20" font-size="6.00" text-anchor="start" textLength="10.20" lengthAdjust="spacingAndGlyphs" fill="#2a2a2a" style="stroke-width:0.12px">DSS</text>
<rect x="119.20" y="198.20" width="39.50" height="24.10" fill="#fff" stroke="#a0a0a0" stroke-width="0.7"/>
<line x1="121.91" y1="203.60" x2="137.98" y2="203.60" stroke="#9c9cf6" stroke-width="0.9"/>
<circle cx="129.95" cy="203.60" r="1.3" fill="#fff" stroke="#9c9cf6" stroke-width="0.75"/>
<text x="140.40" y="206.59" font-size="8.48" text-anchor="start" textLength="4.65" lengthAdjust="spacingAndGlyphs" fill="#2a2a2a" style="stroke-width:0.12px">P</text>
<text x="145.53" y="209.38" font-size="4.63" text-anchor="start" textLength="9.87" lengthAdjust="spacingAndGlyphs" fill="#2a2a2a" style="stroke-width:0.08px">IMD1</text>
<line x1="121.91" y1="215.26" x2="137.98" y2="215.26" stroke="#f6a0a0" stroke-width="0.9"/>
<circle cx="129.95" cy="215.26" r="1.3" fill="#fff" stroke="#f6a0a0" stroke-width="0.75"/>
<text x="140.40" y="218.25" font-size="8.48" text-anchor="start" textLength="4.65" lengthAdjust="spacingAndGlyphs" fill="#2a2a2a" style="stroke-width:0.12px">P</text>
<text x="145.53" y="221.05" font-size="4.63" text-anchor="start" textLength="9.87" lengthAdjust="spacingAndGlyphs" fill="#2a2a2a" style="stroke-width:0.08px">IMD3</text>
<rect x="191.00" y="128.60" width="134.90" height="99.20" fill="none" stroke="#999999" stroke-width="0.9"/>
<line x1="191.00" y1="227.80" x2="191.00" y2="226.00" stroke="#999999" stroke-width="0.7"/>
<line x1="205.99" y1="227.80" x2="205.99" y2="226.80" stroke="#999999" stroke-width="0.7"/>
<line x1="220.98" y1="227.80" x2="220.98" y2="226.00" stroke="#999999" stroke-width="0.7"/>
<line x1="235.97" y1="227.80" x2="235.97" y2="226.80" stroke="#999999" stroke-width="0.7"/>
<line x1="250.96" y1="227.80" x2="250.96" y2="226.00" stroke="#999999" stroke-width="0.7"/>
<line x1="265.94" y1="227.80" x2="265.94" y2="226.80" stroke="#999999" stroke-width="0.7"/>
<line x1="280.93" y1="227.80" x2="280.93" y2="226.00" stroke="#999999" stroke-width="0.7"/>
<line x1="295.92" y1="227.80" x2="295.92" y2="226.80" stroke="#999999" stroke-width="0.7"/>
<line x1="310.91" y1="227.80" x2="310.91" y2="226.00" stroke="#999999" stroke-width="0.7"/>
<line x1="325.90" y1="227.80" x2="325.90" y2="226.80" stroke="#999999" stroke-width="0.7"/>
<line x1="191.00" y1="227.80" x2="192.00" y2="227.80" stroke="#999999" stroke-width="0.7"/>
<line x1="191.00" y1="220.71" x2="192.80" y2="220.71" stroke="#999999" stroke-width="0.7"/>
<line x1="191.00" y1="213.63" x2="192.00" y2="213.63" stroke="#999999" stroke-width="0.7"/>
<line x1="191.00" y1="206.54" x2="192.80" y2="206.54" stroke="#999999" stroke-width="0.7"/>
<line x1="191.00" y1="199.46" x2="192.00" y2="199.46" stroke="#999999" stroke-width="0.7"/>
<line x1="191.00" y1="192.37" x2="192.80" y2="192.37" stroke="#999999" stroke-width="0.7"/>
<line x1="191.00" y1="185.29" x2="192.00" y2="185.29" stroke="#999999" stroke-width="0.7"/>
<line x1="191.00" y1="178.20" x2="192.80" y2="178.20" stroke="#999999" stroke-width="0.7"/>
<line x1="191.00" y1="171.11" x2="192.00" y2="171.11" stroke="#999999" stroke-width="0.7"/>
<line x1="191.00" y1="164.03" x2="192.80" y2="164.03" stroke="#999999" stroke-width="0.7"/>
<line x1="191.00" y1="156.94" x2="192.00" y2="156.94" stroke="#999999" stroke-width="0.7"/>
<line x1="191.00" y1="149.86" x2="192.80" y2="149.86" stroke="#999999" stroke-width="0.7"/>
<line x1="191.00" y1="142.77" x2="192.00" y2="142.77" stroke="#999999" stroke-width="0.7"/>
<line x1="191.00" y1="135.69" x2="192.80" y2="135.69" stroke="#999999" stroke-width="0.7"/>
<line x1="191.00" y1="128.60" x2="192.00" y2="128.60" stroke="#999999" stroke-width="0.7"/>
<text x="187.90" y="223.40" font-size="7.8" text-anchor="end" textLength="9.69" lengthAdjust="spacingAndGlyphs" fill="#2a2a2a">-80</text>
<text x="187.90" y="209.23" font-size="7.8" text-anchor="end" textLength="9.69" lengthAdjust="spacingAndGlyphs" fill="#2a2a2a">-60</text>
<text x="187.90" y="195.05" font-size="7.8" text-anchor="end" textLength="9.69" lengthAdjust="spacingAndGlyphs" fill="#2a2a2a">-40</text>
<text x="187.90" y="180.88" font-size="7.8" text-anchor="end" textLength="9.69" lengthAdjust="spacingAndGlyphs" fill="#2a2a2a">-20</text>
<text x="187.90" y="166.71" font-size="7.8" text-anchor="end" textLength="3.73" lengthAdjust="spacingAndGlyphs" fill="#2a2a2a">0</text>
<text x="187.90" y="152.54" font-size="7.8" text-anchor="end" textLength="7.46" lengthAdjust="spacingAndGlyphs" fill="#2a2a2a">20</text>
<text x="187.90" y="138.37" font-size="7.8" text-anchor="end" textLength="7.46" lengthAdjust="spacingAndGlyphs" fill="#2a2a2a">40</text>
<text x="191.00" y="235.88" font-size="7.8" text-anchor="middle" textLength="9.69" lengthAdjust="spacingAndGlyphs" fill="#2a2a2a">-10</text>
<text x="220.98" y="235.88" font-size="7.8" text-anchor="middle" textLength="3.73" lengthAdjust="spacingAndGlyphs" fill="#2a2a2a">0</text>
<text x="250.96" y="235.88" font-size="7.8" text-anchor="middle" textLength="7.46" lengthAdjust="spacingAndGlyphs" fill="#2a2a2a">10</text>
<text x="280.93" y="235.88" font-size="7.8" text-anchor="middle" textLength="7.46" lengthAdjust="spacingAndGlyphs" fill="#2a2a2a">20</text>
<text x="310.91" y="235.88" font-size="7.8" text-anchor="middle" textLength="7.46" lengthAdjust="spacingAndGlyphs" fill="#2a2a2a">30</text>
<text x="226.20" y="246.36" font-size="8.60" text-anchor="start" textLength="65.60" lengthAdjust="spacingAndGlyphs" fill="#2a2a2a" style="stroke-width:0.12px">Input Power(dBm)</text>
<text transform="translate(173.66,214.70) rotate(-90)" x="0" y="0" font-size="8.6" textLength="69.50" lengthAdjust="spacingAndGlyphs" fill="#2a2a2a">Output Power(dBm)</text>
<text x="197.70" y="140.60" font-size="8.40" text-anchor="start" textLength="57.20" lengthAdjust="spacingAndGlyphs" fill="#2a2a2a" style="stroke-width:0.12px">OIP3= 26.42 dBm</text>
<text x="313.90" y="136.90" font-size="7.20" text-anchor="start" textLength="8.90" lengthAdjust="spacingAndGlyphs" fill="#2a2a2a" style="stroke-width:0.12px">(4)</text>
<line x1="191.00" y1="144.30" x2="293.60" y2="144.30" stroke="#cccccc" stroke-width="0.6" stroke-dasharray="2,0.7"/>
<line x1="191.00" y1="168.55" x2="293.60" y2="144.30" stroke="#6e6e6e" stroke-width="0.8"/>
<line x1="200.50" y1="210.32" x2="293.60" y2="144.30" stroke="#6e6e6e" stroke-width="0.8"/>
<rect x="189.80" y="167.40" width="2.2" height="2.2" fill="none" stroke="#7272f0" stroke-width="0.6"/>
<rect x="192.20" y="166.76" width="2.2" height="2.2" fill="none" stroke="#7272f0" stroke-width="0.6"/>
<rect x="194.60" y="166.12" width="2.2" height="2.2" fill="none" stroke="#7272f0" stroke-width="0.6"/>
<rect x="197.00" y="165.47" width="2.2" height="2.2" fill="none" stroke="#7272f0" stroke-width="0.6"/>
<rect x="199.40" y="164.83" width="2.2" height="2.2" fill="none" stroke="#7272f0" stroke-width="0.6"/>
<rect x="201.80" y="164.19" width="2.2" height="2.2" fill="none" stroke="#7272f0" stroke-width="0.6"/>
<rect x="204.20" y="163.55" width="2.2" height="2.2" fill="none" stroke="#7272f0" stroke-width="0.6"/>
<rect x="206.60" y="162.90" width="2.2" height="2.2" fill="none" stroke="#7272f0" stroke-width="0.6"/>
<rect x="209.00" y="162.26" width="2.2" height="2.2" fill="none" stroke="#7272f0" stroke-width="0.6"/>
<rect x="211.40" y="161.64" width="2.2" height="2.2" fill="none" stroke="#7272f0" stroke-width="0.6"/>
<rect x="213.80" y="161.15" width="2.2" height="2.2" fill="none" stroke="#7272f0" stroke-width="0.6"/>
<rect x="216.20" y="160.67" width="2.2" height="2.2" fill="none" stroke="#7272f0" stroke-width="0.6"/>
<rect x="218.60" y="160.18" width="2.2" height="2.2" fill="none" stroke="#7272f0" stroke-width="0.6"/>
<rect x="221.00" y="159.69" width="2.2" height="2.2" fill="none" stroke="#7272f0" stroke-width="0.6"/>
<rect x="223.40" y="159.21" width="2.2" height="2.2" fill="none" stroke="#7272f0" stroke-width="0.6"/>
<rect x="225.80" y="158.72" width="2.2" height="2.2" fill="none" stroke="#7272f0" stroke-width="0.6"/>
<rect x="228.20" y="158.23" width="2.2" height="2.2" fill="none" stroke="#7272f0" stroke-width="0.6"/>
<rect x="230.60" y="157.75" width="2.2" height="2.2" fill="none" stroke="#7272f0" stroke-width="0.6"/>
<rect x="233.00" y="157.26" width="2.2" height="2.2" fill="none" stroke="#7272f0" stroke-width="0.6"/>
<rect x="235.40" y="156.72" width="2.2" height="2.2" fill="none" stroke="#7272f0" stroke-width="0.6"/>
<rect x="237.80" y="156.18" width="2.2" height="2.2" fill="none" stroke="#7272f0" stroke-width="0.6"/>
<rect x="240.20" y="155.63" width="2.2" height="2.2" fill="none" stroke="#7272f0" stroke-width="0.6"/>
<rect x="242.60" y="155.08" width="2.2" height="2.2" fill="none" stroke="#7272f0" stroke-width="0.6"/>
<rect x="245.00" y="154.54" width="2.2" height="2.2" fill="none" stroke="#7272f0" stroke-width="0.6"/>
<rect x="247.40" y="153.99" width="2.2" height="2.2" fill="none" stroke="#7272f0" stroke-width="0.6"/>
<rect x="249.80" y="153.50" width="2.2" height="2.2" fill="none" stroke="#7272f0" stroke-width="0.6"/>
<rect x="252.20" y="153.03" width="2.2" height="2.2" fill="none" stroke="#7272f0" stroke-width="0.6"/>
<rect x="254.60" y="152.55" width="2.2" height="2.2" fill="none" stroke="#7272f0" stroke-width="0.6"/>
<rect x="257.00" y="152.07" width="2.2" height="2.2" fill="none" stroke="#7272f0" stroke-width="0.6"/>
<rect x="259.40" y="151.59" width="2.2" height="2.2" fill="none" stroke="#7272f0" stroke-width="0.6"/>
<rect x="261.80" y="151.12" width="2.2" height="2.2" fill="none" stroke="#7272f0" stroke-width="0.6"/>
<rect x="264.20" y="150.67" width="2.2" height="2.2" fill="none" stroke="#7272f0" stroke-width="0.6"/>
<rect x="266.60" y="150.44" width="2.2" height="2.2" fill="none" stroke="#7272f0" stroke-width="0.6"/>
<rect x="269.00" y="150.21" width="2.2" height="2.2" fill="none" stroke="#7272f0" stroke-width="0.6"/>
<rect x="271.40" y="149.98" width="2.2" height="2.2" fill="none" stroke="#7272f0" stroke-width="0.6"/>
<rect x="273.80" y="149.75" width="2.2" height="2.2" fill="none" stroke="#7272f0" stroke-width="0.6"/>
<rect x="276.20" y="149.51" width="2.2" height="2.2" fill="none" stroke="#7272f0" stroke-width="0.6"/>
<rect x="278.60" y="149.28" width="2.2" height="2.2" fill="none" stroke="#7272f0" stroke-width="0.6"/>
<rect x="281.00" y="149.05" width="2.2" height="2.2" fill="none" stroke="#7272f0" stroke-width="0.6"/>
<rect x="283.40" y="148.82" width="2.2" height="2.2" fill="none" stroke="#7272f0" stroke-width="0.6"/>
<rect x="285.80" y="148.59" width="2.2" height="2.2" fill="none" stroke="#7272f0" stroke-width="0.6"/>
<rect x="288.20" y="148.36" width="2.2" height="2.2" fill="none" stroke="#7272f0" stroke-width="0.6"/>
<rect x="290.60" y="148.13" width="2.2" height="2.2" fill="none" stroke="#7272f0" stroke-width="0.6"/>
<circle cx="191.90" cy="215.00" r="1.25" fill="none" stroke="#f47a84" stroke-width="0.8"/>
<circle cx="194.90" cy="214.24" r="1.25" fill="none" stroke="#f47a84" stroke-width="0.8"/>
<circle cx="197.90" cy="211.78" r="1.25" fill="none" stroke="#f47a84" stroke-width="0.8"/>
<circle cx="200.90" cy="209.00" r="1.25" fill="none" stroke="#f47a84" stroke-width="0.8"/>
<circle cx="203.90" cy="206.45" r="1.25" fill="none" stroke="#f47a84" stroke-width="0.8"/>
<circle cx="206.90" cy="204.16" r="1.25" fill="none" stroke="#f47a84" stroke-width="0.8"/>
<circle cx="209.90" cy="201.87" r="1.25" fill="none" stroke="#f47a84" stroke-width="0.8"/>
<circle cx="212.90" cy="199.58" r="1.25" fill="none" stroke="#f47a84" stroke-width="0.8"/>
<circle cx="215.90" cy="197.29" r="1.25" fill="none" stroke="#f47a84" stroke-width="0.8"/>
<circle cx="218.90" cy="195.01" r="1.25" fill="none" stroke="#f47a84" stroke-width="0.8"/>
<circle cx="221.90" cy="192.86" r="1.25" fill="none" stroke="#f47a84" stroke-width="0.8"/>
<circle cx="224.90" cy="190.70" r="1.25" fill="none" stroke="#f47a84" stroke-width="0.8"/>
<circle cx="227.90" cy="188.54" r="1.25" fill="none" stroke="#f47a84" stroke-width="0.8"/>
<circle cx="230.90" cy="186.39" r="1.25" fill="none" stroke="#f47a84" stroke-width="0.8"/>
<circle cx="233.90" cy="184.23" r="1.25" fill="none" stroke="#f47a84" stroke-width="0.8"/>
<circle cx="236.90" cy="182.07" r="1.25" fill="none" stroke="#f47a84" stroke-width="0.8"/>
<circle cx="239.90" cy="180.24" r="1.25" fill="none" stroke="#f47a84" stroke-width="0.8"/>
<circle cx="242.90" cy="178.42" r="1.25" fill="none" stroke="#f47a84" stroke-width="0.8"/>
<circle cx="245.90" cy="176.61" r="1.25" fill="none" stroke="#f47a84" stroke-width="0.8"/>
<circle cx="248.90" cy="174.79" r="1.25" fill="none" stroke="#f47a84" stroke-width="0.8"/>
<circle cx="251.90" cy="173.21" r="1.25" fill="none" stroke="#f47a84" stroke-width="0.8"/>
<circle cx="254.90" cy="171.82" r="1.25" fill="none" stroke="#f47a84" stroke-width="0.8"/>
<circle cx="257.90" cy="170.83" r="1.25" fill="none" stroke="#f47a84" stroke-width="0.8"/>
<circle cx="260.90" cy="169.96" r="1.25" fill="none" stroke="#f47a84" stroke-width="0.8"/>
<circle cx="263.90" cy="169.09" r="1.25" fill="none" stroke="#f47a84" stroke-width="0.8"/>
<circle cx="266.90" cy="168.59" r="1.25" fill="none" stroke="#f47a84" stroke-width="0.8"/>
<circle cx="269.90" cy="168.56" r="1.25" fill="none" stroke="#f47a84" stroke-width="0.8"/>
<circle cx="272.90" cy="168.53" r="1.25" fill="none" stroke="#f47a84" stroke-width="0.8"/>
<circle cx="275.90" cy="168.50" r="1.25" fill="none" stroke="#f47a84" stroke-width="0.8"/>
<circle cx="278.90" cy="169.26" r="1.25" fill="none" stroke="#f47a84" stroke-width="0.8"/>
<circle cx="281.90" cy="170.07" r="1.25" fill="none" stroke="#f47a84" stroke-width="0.8"/>
<circle cx="284.90" cy="169.38" r="1.25" fill="none" stroke="#f47a84" stroke-width="0.8"/>
<circle cx="287.90" cy="168.40" r="1.25" fill="none" stroke="#f47a84" stroke-width="0.8"/>
<circle cx="290.90" cy="166.55" r="1.25" fill="none" stroke="#f47a84" stroke-width="0.8"/>
<text x="228.10" y="203.20" font-size="8.00" text-anchor="start" textLength="5.00" lengthAdjust="spacingAndGlyphs" fill="#2a2a2a" style="stroke-width:0.2px">V</text>
<text x="233.30" y="206.20" font-size="6.00" text-anchor="start" textLength="7.00" lengthAdjust="spacingAndGlyphs" fill="#2a2a2a" style="stroke-width:0.12px">DS</text>
<text x="240.60" y="203.20" font-size="8.00" text-anchor="start" textLength="18.00" lengthAdjust="spacingAndGlyphs" fill="#2a2a2a" style="stroke-width:0.2px">=20 V</text>
<text x="228.10" y="217.60" font-size="8.00" text-anchor="start" textLength="1.90" lengthAdjust="spacingAndGlyphs" fill="#2a2a2a" style="stroke-width:0.2px">I</text>
<text x="230.70" y="221.00" font-size="6.00" text-anchor="start" textLength="7.20" lengthAdjust="spacingAndGlyphs" fill="#2a2a2a" style="stroke-width:0.12px">DS</text>
<text x="238.40" y="217.60" font-size="8.00" text-anchor="start" textLength="25.30" lengthAdjust="spacingAndGlyphs" fill="#2a2a2a" style="stroke-width:0.2px">=0.125 I</text>
<text x="265.10" y="221.00" font-size="6.00" text-anchor="start" textLength="10.20" lengthAdjust="spacingAndGlyphs" fill="#2a2a2a" style="stroke-width:0.12px">DSS</text>
<rect x="277.10" y="197.10" width="46.50" height="26.70" fill="#fff" stroke="#a0a0a0" stroke-width="0.7"/>
<line x1="280.29" y1="203.08" x2="299.21" y2="203.08" stroke="#9c9cf6" stroke-width="0.9"/>
<circle cx="289.75" cy="203.08" r="1.3" fill="#fff" stroke="#9c9cf6" stroke-width="0.75"/>
<text x="302.06" y="206.39" font-size="9.40" text-anchor="start" textLength="5.47" lengthAdjust="spacingAndGlyphs" fill="#2a2a2a" style="stroke-width:0.12px">P</text>
<text x="308.10" y="209.49" font-size="5.13" text-anchor="start" textLength="11.63" lengthAdjust="spacingAndGlyphs" fill="#2a2a2a" style="stroke-width:0.08px">IMD1</text>
<line x1="280.29" y1="216.00" x2="299.21" y2="216.00" stroke="#f6a0a0" stroke-width="0.9"/>
<circle cx="289.75" cy="216.00" r="1.3" fill="#fff" stroke="#f6a0a0" stroke-width="0.75"/>
<text x="302.06" y="219.31" font-size="9.40" text-anchor="start" textLength="5.47" lengthAdjust="spacingAndGlyphs" fill="#2a2a2a" style="stroke-width:0.12px">P</text>
<text x="308.10" y="222.41" font-size="5.13" text-anchor="start" textLength="11.63" lengthAdjust="spacingAndGlyphs" fill="#2a2a2a" style="stroke-width:0.08px">IMD3</text>
<rect x="370.7" y="61.6" width="171.80" height="142.80" fill="none" stroke="#999999" stroke-width="0.9"/>
<line x1="395.24" y1="204.4" x2="395.24" y2="202.6" stroke="#999999" stroke-width="0.7"/>
<line x1="395.24" y1="61.6" x2="395.24" y2="63.4" stroke="#999999" stroke-width="0.7"/>
<line x1="419.79" y1="204.4" x2="419.79" y2="202.6" stroke="#999999" stroke-width="0.7"/>
<line x1="419.79" y1="61.6" x2="419.79" y2="63.4" stroke="#999999" stroke-width="0.7"/>
<line x1="444.33" y1="204.4" x2="444.33" y2="202.6" stroke="#999999" stroke-width="0.7"/>
<line x1="444.33" y1="61.6" x2="444.33" y2="63.4" stroke="#999999" stroke-width="0.7"/>
<line x1="468.87" y1="204.4" x2="468.87" y2="202.6" stroke="#999999" stroke-width="0.7"/>
<line x1="468.87" y1="61.6" x2="468.87" y2="63.4" stroke="#999999" stroke-width="0.7"/>
<line x1="493.41" y1="204.4" x2="493.41" y2="202.6" stroke="#999999" stroke-width="0.7"/>
<line x1="493.41" y1="61.6" x2="493.41" y2="63.4" stroke="#999999" stroke-width="0.7"/>
<line x1="517.96" y1="204.4" x2="517.96" y2="202.6" stroke="#999999" stroke-width="0.7"/>
<line x1="517.96" y1="61.6" x2="517.96" y2="63.4" stroke="#999999" stroke-width="0.7"/>
<line x1="370.7" y1="186.55" x2="371.8" y2="186.55" stroke="#999999" stroke-width="0.7"/>
<line x1="542.5" y1="186.55" x2="541.4" y2="186.55" stroke="#999999" stroke-width="0.7"/>
<line x1="370.7" y1="168.70" x2="372.5" y2="168.70" stroke="#999999" stroke-width="0.7"/>
<line x1="542.5" y1="168.70" x2="540.7" y2="168.70" stroke="#999999" stroke-width="0.7"/>
<line x1="370.7" y1="150.85" x2="371.8" y2="150.85" stroke="#999999" stroke-width="0.7"/>
<line x1="542.5" y1="150.85" x2="541.4" y2="150.85" stroke="#999999" stroke-width="0.7"/>
<line x1="370.7" y1="133.00" x2="372.5" y2="133.00" stroke="#999999" stroke-width="0.7"/>
<line x1="542.5" y1="133.00" x2="540.7" y2="133.00" stroke="#999999" stroke-width="0.7"/>
<line x1="370.7" y1="115.15" x2="371.8" y2="115.15" stroke="#999999" stroke-width="0.7"/>
<line x1="542.5" y1="115.15" x2="541.4" y2="115.15" stroke="#999999" stroke-width="0.7"/>
<line x1="370.7" y1="97.30" x2="372.5" y2="97.30" stroke="#999999" stroke-width="0.7"/>
<line x1="542.5" y1="97.30" x2="540.7" y2="97.30" stroke="#999999" stroke-width="0.7"/>
<line x1="370.7" y1="79.45" x2="371.8" y2="79.45" stroke="#999999" stroke-width="0.7"/>
<line x1="542.5" y1="79.45" x2="541.4" y2="79.45" stroke="#999999" stroke-width="0.7"/>
<text x="367.8" y="64.97" font-size="9.8" text-anchor="end" textLength="11.6" lengthAdjust="spacingAndGlyphs" fill="#2a2a2a">-20</text>
<text x="367.8" y="100.67" font-size="9.8" text-anchor="end" textLength="11.6" lengthAdjust="spacingAndGlyphs" fill="#2a2a2a">-30</text>
<text x="367.8" y="136.37" font-size="9.8" text-anchor="end" textLength="11.6" lengthAdjust="spacingAndGlyphs" fill="#2a2a2a">-40</text>
<text x="367.8" y="172.07" font-size="9.8" text-anchor="end" textLength="11.6" lengthAdjust="spacingAndGlyphs" fill="#2a2a2a">-50</text>
<text x="367.8" y="207.77" font-size="9.8" text-anchor="end" textLength="11.6" lengthAdjust="spacingAndGlyphs" fill="#2a2a2a">-60</text>
<text x="395.24" y="215.61" font-size="10.2" text-anchor="middle" textLength="4.99" lengthAdjust="spacingAndGlyphs" fill="#2a2a2a">8</text>
<text x="444.33" y="215.61" font-size="10.2" text-anchor="middle" textLength="9.98" lengthAdjust="spacingAndGlyphs" fill="#2a2a2a">10</text>
<text x="493.41" y="215.61" font-size="10.2" text-anchor="middle" textLength="9.98" lengthAdjust="spacingAndGlyphs" fill="#2a2a2a">12</text>
<text x="542.50" y="215.61" font-size="10.2" text-anchor="middle" textLength="9.98" lengthAdjust="spacingAndGlyphs" fill="#2a2a2a">14</text>
<line x1="370.7" y1="107.0" x2="542.5" y2="185.9" stroke="#4a4a4a" stroke-width="0.9"/>
<circle cx="392.30" cy="116.92" r="1.2" fill="#4a4a4a"/>
<circle cx="416.84" cy="128.19" r="1.2" fill="#4a4a4a"/>
<circle cx="441.38" cy="139.46" r="1.2" fill="#4a4a4a"/>
<circle cx="465.93" cy="150.73" r="1.2" fill="#4a4a4a"/>
<circle cx="490.47" cy="162.00" r="1.2" fill="#4a4a4a"/>
<circle cx="515.01" cy="173.28" r="1.2" fill="#4a4a4a"/>
<circle cx="539.55" cy="184.55" r="1.2" fill="#4a4a4a"/>
<line x1="370.7" y1="100.6" x2="542.5" y2="180.2" stroke="#f24444" stroke-width="0.9"/>
<circle cx="370.70" cy="100.60" r="1.2" fill="#f24444"/>
<circle cx="395.24" cy="111.97" r="1.2" fill="#f24444"/>
<circle cx="419.79" cy="123.34" r="1.2" fill="#f24444"/>
<circle cx="444.33" cy="134.71" r="1.2" fill="#f24444"/>
<circle cx="468.87" cy="146.09" r="1.2" fill="#f24444"/>
<circle cx="493.41" cy="157.46" r="1.2" fill="#f24444"/>
<circle cx="517.96" cy="168.83" r="1.2" fill="#f24444"/>
<circle cx="542.50" cy="180.20" r="1.2" fill="#f24444"/>
<line x1="370.7" y1="102.5" x2="542.5" y2="182.2" stroke="#4a4af2" stroke-width="0.9"/>
<circle cx="391.32" cy="112.06" r="1.2" fill="#4a4af2"/>
<circle cx="415.86" cy="123.45" r="1.2" fill="#4a4af2"/>
<circle cx="440.40" cy="134.84" r="1.2" fill="#4a4af2"/>
<circle cx="464.94" cy="146.22" r="1.2" fill="#4a4af2"/>
<circle cx="489.49" cy="157.61" r="1.2" fill="#4a4af2"/>
<circle cx="514.03" cy="168.99" r="1.2" fill="#4a4af2"/>
<circle cx="538.57" cy="180.38" r="1.2" fill="#4a4af2"/>
<line x1="370.7" y1="92.6" x2="542.5" y2="171.9" stroke="#f244f2" stroke-width="0.9"/>
<circle cx="382.97" cy="98.26" r="1.2" fill="#f244f2"/>
<circle cx="407.51" cy="109.59" r="1.2" fill="#f244f2"/>
<circle cx="432.06" cy="120.92" r="1.2" fill="#f244f2"/>
<circle cx="456.60" cy="132.25" r="1.2" fill="#f244f2"/>
<circle cx="481.14" cy="143.58" r="1.2" fill="#f244f2"/>
<circle cx="505.69" cy="154.91" r="1.2" fill="#f244f2"/>
<circle cx="530.23" cy="166.24" r="1.2" fill="#f244f2"/>
<rect x="444.3" y="69.2" width="92.5" height="49.8" fill="#fff" stroke="#999999" stroke-width="0.8"/>
<line x1="450.8" y1="77.6" x2="469.4" y2="77.6" stroke="#4a4a4a" stroke-width="1.1"/>
<circle cx="460" cy="77.6" r="1.1" fill="#4a4a4a"/>
<text x="471.80" y="80.42" font-size="8.20" text-anchor="start" textLength="40.50" lengthAdjust="spacingAndGlyphs" fill="#2a2a2a" style="stroke-width:0.12px">IMD3 Planar</text>
<line x1="450.8" y1="90.1" x2="469.4" y2="90.1" stroke="#f24444" stroke-width="1.1"/>
<circle cx="460" cy="90.1" r="1.1" fill="#f24444"/>
<text x="471.80" y="92.92" font-size="8.20" text-anchor="start" textLength="57.80" lengthAdjust="spacingAndGlyphs" fill="#2a2a2a" style="stroke-width:0.12px">IMD3 1 Etched Fin</text>
<line x1="450.8" y1="101.4" x2="469.4" y2="101.4" stroke="#4a4af2" stroke-width="1.1"/>
<circle cx="460" cy="101.4" r="1.1" fill="#4a4af2"/>
<text x="471.80" y="104.22" font-size="8.20" text-anchor="start" textLength="60.90" lengthAdjust="spacingAndGlyphs" fill="#2a2a2a" style="stroke-width:0.12px">IMD3 4 Etched Fins</text>
<line x1="450.8" y1="112.5" x2="469.4" y2="112.5" stroke="#f244f2" stroke-width="1.1"/>
<circle cx="460" cy="112.5" r="1.1" fill="#f244f2"/>
<text x="471.80" y="115.32" font-size="8.20" text-anchor="start" textLength="60.90" lengthAdjust="spacingAndGlyphs" fill="#2a2a2a" style="stroke-width:0.12px">IMD3 9 Etched Fins</text>
<text x="383.20" y="169.90" font-size="10.20" text-anchor="start" textLength="6.60" lengthAdjust="spacingAndGlyphs" fill="#2a2a2a" style="stroke-width:0.25px">V</text>
<text x="389.20" y="174.00" font-size="7.40" text-anchor="start" textLength="9.20" lengthAdjust="spacingAndGlyphs" fill="#2a2a2a" style="stroke-width:0.15px">DS</text>
<text x="399.20" y="169.90" font-size="10.20" text-anchor="start" textLength="21.20" lengthAdjust="spacingAndGlyphs" fill="#2a2a2a" style="stroke-width:0.25px">=20 V</text>
<text x="385.50" y="189.40" font-size="10.20" text-anchor="start" textLength="2.60" lengthAdjust="spacingAndGlyphs" fill="#2a2a2a" style="stroke-width:0.25px">I</text>
<text x="388.30" y="194.00" font-size="7.40" text-anchor="start" textLength="9.10" lengthAdjust="spacingAndGlyphs" fill="#2a2a2a" style="stroke-width:0.15px">DS</text>
<text x="398.00" y="189.40" font-size="10.20" text-anchor="start" textLength="30.80" lengthAdjust="spacingAndGlyphs" fill="#2a2a2a" style="stroke-width:0.25px">=0.125 I</text>
<text x="430.00" y="194.00" font-size="7.40" text-anchor="start" textLength="13.60" lengthAdjust="spacingAndGlyphs" fill="#2a2a2a" style="stroke-width:0.15px">DSS</text>
<text x="384.50" y="231.80" font-size="11.20" text-anchor="start" textLength="109.00" lengthAdjust="spacingAndGlyphs" fill="#2a2a2a" style="stroke-width:0.12px">Power backed-off from P</text>
<text x="493.40" y="234.60" font-size="6.40" text-anchor="start" textLength="9.80" lengthAdjust="spacingAndGlyphs" fill="#2a2a2a" style="stroke-width:0.08px">1dB</text>
<text x="503.50" y="231.80" font-size="11.20" text-anchor="start" textLength="25.00" lengthAdjust="spacingAndGlyphs" fill="#2a2a2a" style="stroke-width:0.12px">(dBm)</text>
<text transform="translate(348.61,233.7) rotate(-90)" font-size="10.5" textLength="186.3" lengthAdjust="spacingAndGlyphs" fill="#2a2a2a">Third-order Output Power, IMD3(dBm)</text>
<text x="157.8" y="265.5" font-size="10.6" style="font-family:&quot;Liberation Serif&quot;,serif;font-weight:bold;stroke-width:0px" fill="#222">(a)</text>
<text x="435" y="264.4" font-size="10.9" style="font-family:&quot;Liberation Serif&quot;,serif;font-weight:bold;stroke-width:0px" fill="#222">(b)</text>
</svg>
</body></html>
